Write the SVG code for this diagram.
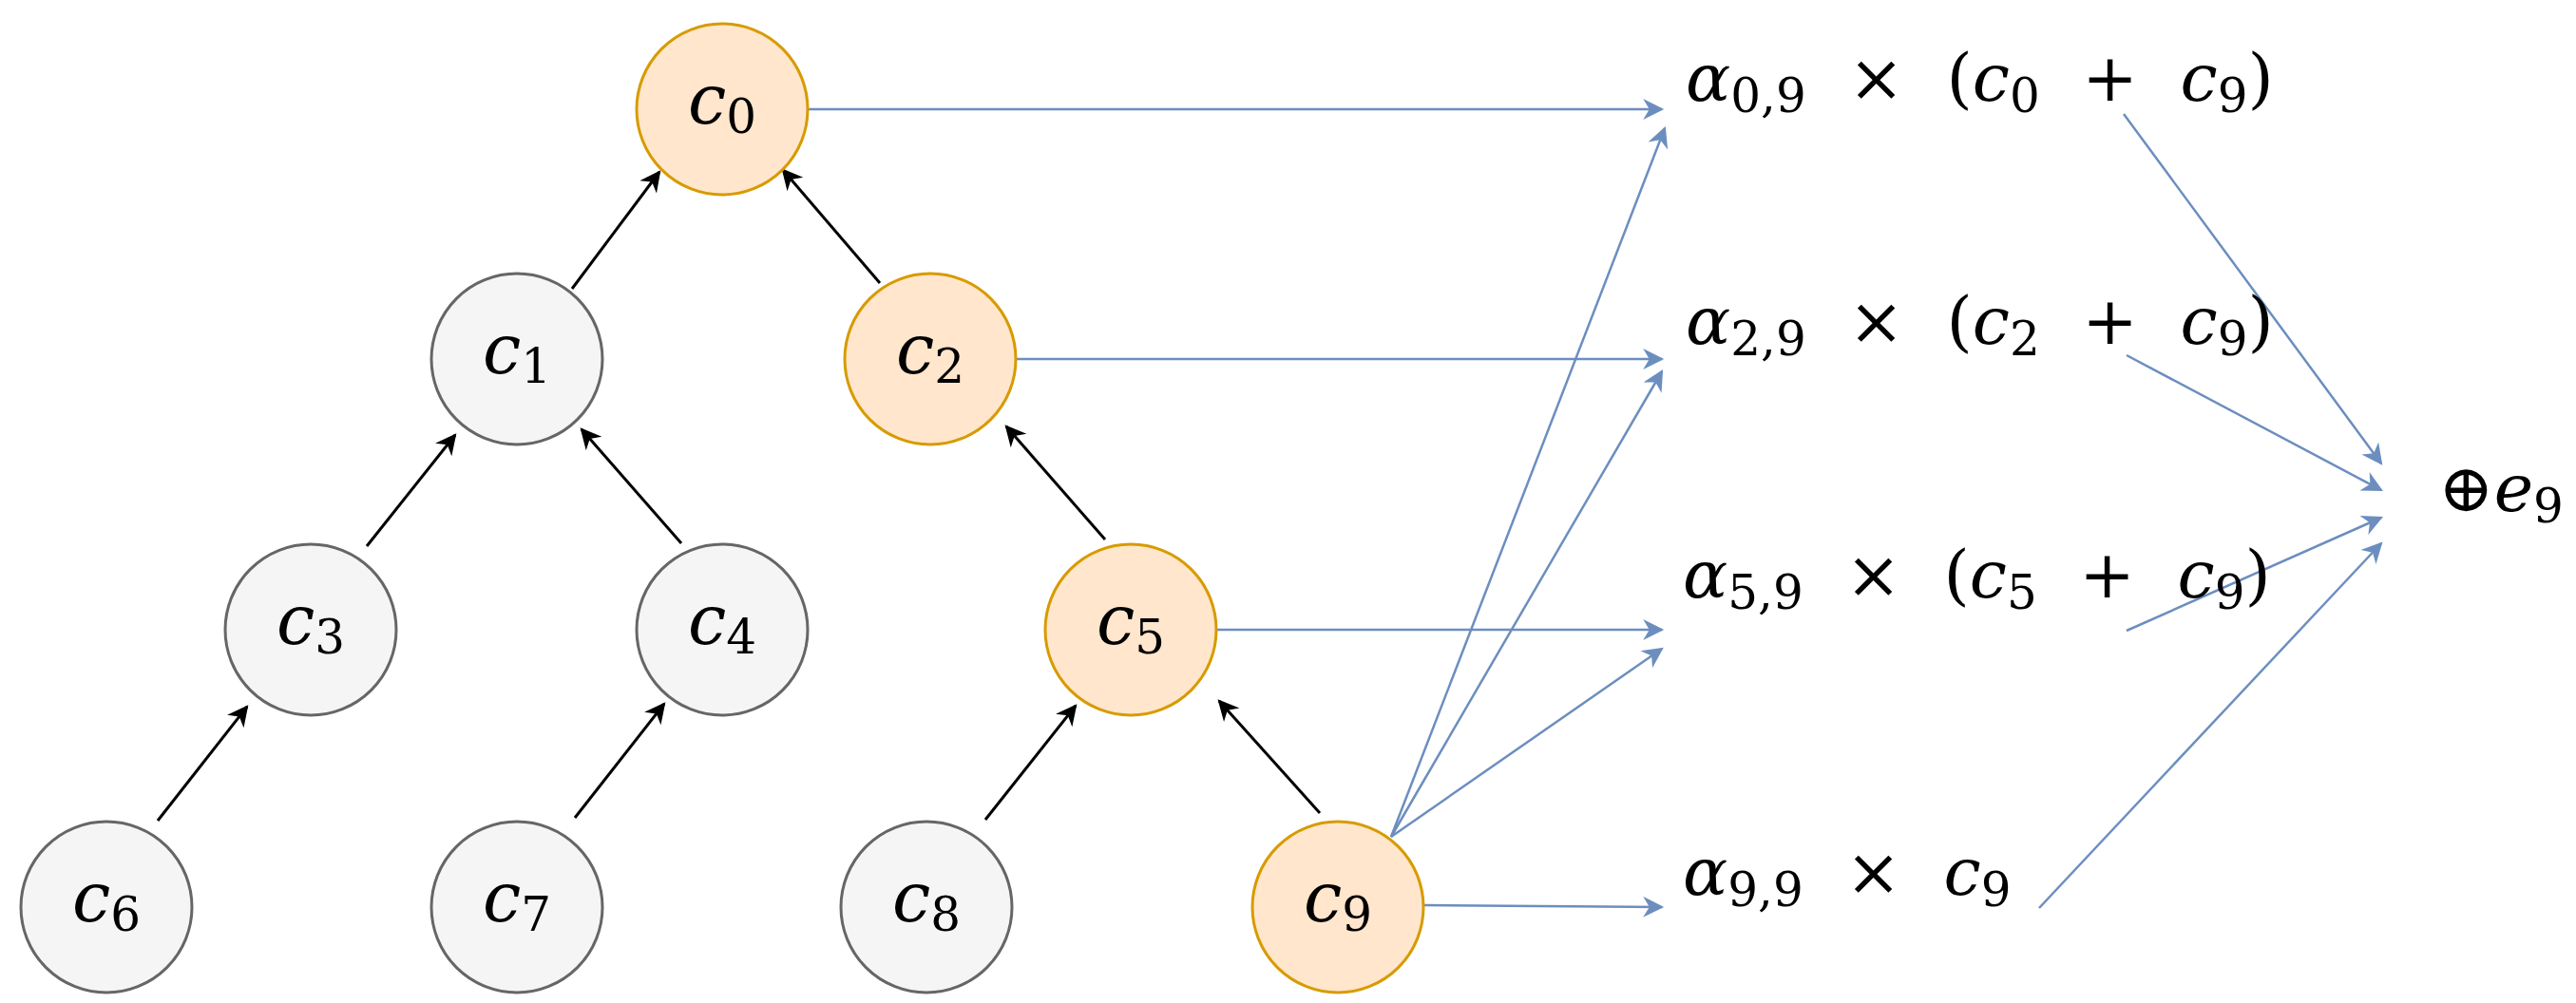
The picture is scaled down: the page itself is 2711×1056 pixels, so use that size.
<svg xmlns="http://www.w3.org/2000/svg" width="2711" height="1056" viewBox="0 0 2711 1056">
<defs>
<marker id="ab" viewBox="0 0 10 10" refX="9" refY="5" markerWidth="26" markerHeight="22" markerUnits="userSpaceOnUse" orient="auto"><path d="M0,0 L10,5 L0,10 L3,5 Z" fill="#000"/></marker>
<marker id="au" viewBox="0 0 10 10" refX="9" refY="5" markerWidth="28" markerHeight="22" markerUnits="userSpaceOnUse" orient="auto"><path d="M0,0 L10,5 L0,10 L3,5 Z" fill="#6c8ebf"/></marker>
<style>
.g{fill:#f5f5f5;stroke:#666;stroke-width:3}
.o{fill:#ffe6cc;stroke:#d79b00;stroke-width:3}
.k{stroke:#000;stroke-width:3;fill:none}
.b{stroke:#6c8ebf;stroke-width:2.5;fill:none}
.n,.m{font-family:"DejaVu Serif","Liberation Serif",serif;fill:#000;white-space:pre}
.n{font-size:72px;font-style:italic;text-anchor:middle}
.m{font-size:70px}
.i{font-style:italic}
.s{font-size:50px;font-style:normal}
</style>
</defs>
<g id="connectors">
<line class="k" x1="602" y1="304" x2="694" y2="181" marker-end="url(#ab)"/>
<line class="k" x1="926" y1="298" x2="824" y2="179" marker-end="url(#ab)"/>
<line class="k" x1="386" y1="575" x2="479" y2="458" marker-end="url(#ab)"/>
<line class="k" x1="717" y1="572" x2="612" y2="452" marker-end="url(#ab)"/>
<line class="k" x1="166" y1="864" x2="260" y2="744" marker-end="url(#ab)"/>
<line class="k" x1="605" y1="861" x2="699" y2="741" marker-end="url(#ab)"/>
<line class="k" x1="1163" y1="568" x2="1059" y2="449" marker-end="url(#ab)"/>
<line class="k" x1="1037" y1="863" x2="1132" y2="743" marker-end="url(#ab)"/>
<line class="k" x1="1389" y1="856" x2="1283" y2="738" marker-end="url(#ab)"/>
<line class="b" x1="850" y1="115" x2="1749" y2="115" marker-end="url(#au)"/>
<line class="b" x1="1069" y1="378" x2="1749" y2="378" marker-end="url(#au)"/>
<line class="b" x1="1280" y1="663" x2="1749" y2="663" marker-end="url(#au)"/>
<line class="b" x1="1498" y1="953" x2="1749" y2="955" marker-end="url(#au)"/>
<line class="b" x1="1464" y1="881" x2="1752" y2="135" marker-end="url(#au)"/>
<line class="b" x1="1464" y1="881" x2="1749" y2="391" marker-end="url(#au)"/>
<line class="b" x1="1464" y1="881" x2="1749" y2="683" marker-end="url(#au)"/>
<line class="b" x1="2235" y1="120" x2="2506" y2="488" marker-end="url(#au)"/>
<line class="b" x1="2238" y1="374" x2="2506" y2="516" marker-end="url(#au)"/>
<line class="b" x1="2238" y1="664" x2="2506" y2="545" marker-end="url(#au)"/>
<line class="b" x1="2146" y1="956" x2="2506" y2="572" marker-end="url(#au)"/>
</g>
<g id="c0"><circle class="o" cx="760" cy="115" r="90"/><text class="n" x="760" y="130">c<tspan class="s" dy="10">0</tspan></text></g>
<g id="c1"><circle class="g" cx="544" cy="378" r="90"/><text class="n" x="544" y="393">c<tspan class="s" dy="10">1</tspan></text></g>
<g id="c2"><circle class="o" cx="979" cy="378" r="90"/><text class="n" x="979" y="393">c<tspan class="s" dy="10">2</tspan></text></g>
<g id="c3"><circle class="g" cx="327" cy="663" r="90"/><text class="n" x="327" y="678">c<tspan class="s" dy="10">3</tspan></text></g>
<g id="c4"><circle class="g" cx="760" cy="663" r="90"/><text class="n" x="760" y="678">c<tspan class="s" dy="10">4</tspan></text></g>
<g id="c5"><circle class="o" cx="1190" cy="663" r="90"/><text class="n" x="1190" y="678">c<tspan class="s" dy="10">5</tspan></text></g>
<g id="c6"><circle class="g" cx="112" cy="955" r="90"/><text class="n" x="112" y="970">c<tspan class="s" dy="10">6</tspan></text></g>
<g id="c7"><circle class="g" cx="544" cy="955" r="90"/><text class="n" x="544" y="970">c<tspan class="s" dy="10">7</tspan></text></g>
<g id="c8"><circle class="g" cx="975" cy="955" r="90"/><text class="n" x="975" y="970">c<tspan class="s" dy="10">8</tspan></text></g>
<g id="c9"><circle class="o" cx="1408" cy="955" r="90"/><text class="n" x="1408" y="970">c<tspan class="s" dy="10">9</tspan></text></g>
<g id="t0"><text class="m" x="1774" y="106"><tspan class="i">α</tspan><tspan class="s" dy="12">0,9</tspan><tspan dy="-12">  ×  (</tspan><tspan class="i">c</tspan><tspan class="s" dy="12">0</tspan><tspan dy="-12">  +  </tspan><tspan class="i">c</tspan><tspan class="s" dy="12">9</tspan><tspan dy="-12">)</tspan></text></g>
<g id="t2"><text class="m" x="1774" y="362"><tspan class="i">α</tspan><tspan class="s" dy="12">2,9</tspan><tspan dy="-12">  ×  (</tspan><tspan class="i">c</tspan><tspan class="s" dy="12">2</tspan><tspan dy="-12">  +  </tspan><tspan class="i">c</tspan><tspan class="s" dy="12">9</tspan><tspan dy="-12">)</tspan></text></g>
<g id="t5"><text class="m" x="1771" y="629"><tspan class="i">α</tspan><tspan class="s" dy="12">5,9</tspan><tspan dy="-12">  ×  (</tspan><tspan class="i">c</tspan><tspan class="s" dy="12">5</tspan><tspan dy="-12">  +  </tspan><tspan class="i">c</tspan><tspan class="s" dy="12">9</tspan><tspan dy="-12">)</tspan></text></g>
<g id="t9"><text class="m" x="1771" y="942"><tspan class="i">α</tspan><tspan class="s" dy="12">9,9</tspan><tspan dy="-12">  ×  </tspan><tspan class="i">c</tspan><tspan class="s" dy="12">9</tspan></text></g>
<g id="e9"><text class="m" x="2566" y="538">⊕<tspan class="i">e</tspan><tspan class="s" dy="12">9</tspan></text></g>
</svg>
